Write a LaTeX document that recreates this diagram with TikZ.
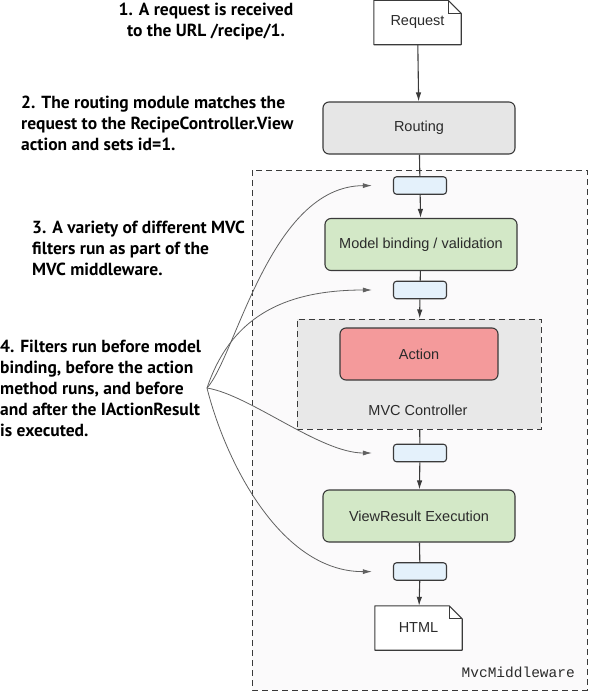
\documentclass[tikz,border=0pt]{standalone}
\usepackage{fontspec}
\usepackage{xcolor}
\usepackage{tikz}
\usetikzlibrary{arrows.meta}
\setmainfont{Liberation Sans}
\setmonofont{Liberation Mono}
\newfontfamily\notefont[BoldFont={PT Sans Bold}]{PT Sans}
\definecolor{linegray}{HTML}{3A3A3A}
\definecolor{textgray}{HTML}{2B2B2B}
\definecolor{routefill}{HTML}{E6E6E6}
\definecolor{greenfill}{HTML}{D3E8C7}
\definecolor{actionfill}{HTML}{F49A9B}
\definecolor{filterfill}{HTML}{E4F1FB}
\definecolor{outerfill}{HTML}{FBFAFB}
\definecolor{ctrlfill}{HTML}{E8E8E8}
\tikzset{
	% The plain steps of the pipeline
	stage/.style={
		draw=linegray,fill=routefill,rounded corners=6pt,line width=1.1pt,
		minimum width=192pt,minimum height=52pt,text=textgray,
		font=\fontsize{14.5}{16}\selectfont
	},
	% The steps that run inside the middleware
	greenstage/.style={
		stage,fill=greenfill
	},
	% The action itself
	actionstage/.style={
		stage,fill=actionfill,minimum width=158pt
	},
	% The small filter boxes
	filterbox/.style={
		draw=linegray,fill=filterfill,rounded corners=3pt,line width=1.1pt,
		minimum width=53pt,minimum height=17.5pt,inner sep=0pt
	},
	% Documents going in and out
	docnode/.style={
		minimum width=87pt,minimum height=44pt,text=textgray,
		font=\fontsize{14.5}{16}\selectfont
	},
	% The dashed containers
	container/.style={
		draw=linegray,dashed,dash pattern=on 6pt off 4pt,line width=1pt
	},
	% The notes on the left
	note/.style={
		inner sep=0pt,text=black,font=\notefont\bfseries\fontsize{17.5}{21}\selectfont
	},
	flow/.style={
		draw=linegray,line width=1.1pt
	},
	flowhead/.style={
		flow,-{Latex[length=9pt,width=5.5pt]}
	},
	fan/.style={
		draw=linegray!80,line width=0.8pt,-{Latex[length=9pt,width=5pt]},shorten >=21pt
	},
}
\begin{document}
\begin{tikzpicture}[x=1pt,y=-1pt]
		\useasboundingbox (0,0) rectangle (590,691);
		% Containers
		\draw [container,fill=outerfill] (252,170) rectangle (587,690);
		\node [font=\ttfamily\fontsize{14.5}{16}\selectfont,anchor=east,text=textgray,inner sep=0pt] (MvcLabel) at (575,672) {MvcMiddleware};
		\node [container,fill=ctrlfill,minimum width=244pt,minimum height=110pt] (Controller) at (419,374) {};
		\node [text=textgray,font=\fontsize{14.5}{16}\selectfont] (Controller label) at (418,410) {MVC Controller};

		% Pipeline
		\node [docnode] (Request) at (417.5,22.5) {Request};
		\node [stage] (Routing) at (419,128) {Routing};
		\node [filterbox] (Filter one) at (420,185.5) {};
		\node [greenstage] (Binding) at (421,244.5) {Model binding / validation};
		\node [filterbox] (Filter two) at (420,290) {};
		\node [actionstage] (Action) at (419,354) {Action};
		\node [filterbox] (Filter three) at (420,453) {};
		\node [greenstage] (ViewResult) at (419,516) {ViewResult Execution};
		\node [filterbox] (Filter four) at (420,571.5) {};
		\node [docnode] (HTML) at (418.5,628) {HTML};

		% Document outlines with folded corner
		\foreach \doc in {Request,HTML} {
			\draw [flow,fill=white,line join=round] (\doc.south west) -- (\doc.north west) -- ([xshift=-13pt]\doc.north east) -- ([yshift=-13pt]\doc.north east) -- (\doc.south east) -- cycle;
			\draw [flow,line width=0.8pt] ([xshift=-13pt]\doc.north east) -- ([xshift=-13pt,yshift=-13pt]\doc.north east) -- ([yshift=-13pt]\doc.north east);
			\node [docnode] at (\doc) {\doc};
		}

		% Notes
		\node [note,align=center] (Note one) at (206,21.5) {1. A request is received\\to the URL /recipe/1.};
		\node [note,align=left,anchor=west] (Note two) at (21,123) {2. The routing module matches the\\request to the RecipeController.View\\action and sets id=1.};
		\node [note,align=left,anchor=west] (Note three) at (32,248) {3. A variety of different MVC\\filters run as part of the\\MVC middleware.};
		\node [note,align=left,anchor=west] (Note four) at (0,388) {4. Filters run before model\\binding, before the action\\method runs, and before\\and after the IActionResult\\is executed.};
		\coordinate (Fan) at (207,388);

		% Flow
		\draw [flowhead] (Request) -- (Routing);
		\draw [flow] (Routing) -- (Filter one);
		\draw [flowhead] (Filter one) -- (Binding);
		\draw [flow] (Binding) -- (Filter two);
		\draw [flowhead] (Filter two) -- (Controller);
		\draw [flow] (Controller) -- (Filter three);
		\draw [flowhead] (Filter three) -- (ViewResult);
		\draw [flow] (ViewResult) -- (Filter four);
		\draw [flowhead] (Filter four) -- (HTML);

		% Filters run here
		\draw [fan] (Fan) .. controls (236,356) and (270,186) .. (Filter one.west);
		\draw [fan] (Fan) .. controls (230,320) and (280,290) .. (Filter two.west);
		\draw [fan] (Fan) .. controls (250,395) and (320,453) .. (Filter three.west);
		\draw [fan] (Fan) .. controls (225,460) and (280,572) .. (Filter four.west);
	\end{tikzpicture}
\end{document}
